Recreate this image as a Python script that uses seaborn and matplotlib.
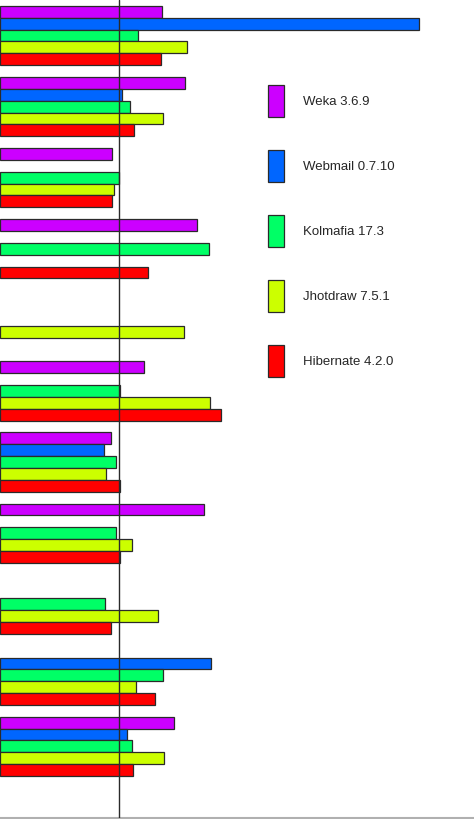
import numpy as np
import pandas as pd
import matplotlib
matplotlib.use("Agg")
import matplotlib.pyplot as plt
import seaborn as sns

# ---------------------------------------------------------------
# datos (NaN = barra ausente)
# ---------------------------------------------------------------
groups = ["G1", "G2", "G3", "G4", "G5", "G6", "G7", "G8", "G9", "G10", "G11"]
systems = ["Weka 3.6.9", "Webmail 0.7.10", "Kolmafia 17.3", "Jhotdraw 7.5.1", "Hibernate 4.2.0"]
colors = ["#cc00ff", "#0066ff", "#00ff66", "#ccff00", "#ff0000"]

weka = [1.367, 1.564, 0.944, 1.665, np.nan, 1.215, 0.933, 1.724, np.nan, np.nan, 1.465]
webmail = [3.54, 1.026, np.nan, np.nan, np.nan, np.nan, 0.879, np.nan, np.nan, 1.778, 1.074]
kolmafia = [1.164, 1.093, 1.0, 1.767, np.nan, 1.014, 0.975, 0.983, 0.882, 1.375, 1.11]
jhotdraw = [1.575, 1.375, 0.964, np.nan, 1.555, 1.775, 0.893, 1.113, 1.336, 1.144, 1.384]
hibernate = [1.355, 1.135, 0.947, 1.245, np.nan, 1.866, 1.014, 1.014, 0.933, 1.305, 1.122]

series = [weka, webmail, kolmafia, jhotdraw, hibernate]
df = pd.DataFrame(
    [(g, s, v) for s, vals in zip(systems, series) for g, v in zip(groups, vals)],
    columns=["group", "system", "ratio"],
)

# ---------------------------------------------------------------
# figura
# ---------------------------------------------------------------
sns.set_style("white")
plt.rcParams["font.family"] = ["Liberation Sans", "DejaVu Sans"]

fig = plt.figure(figsize=(4.74, 8.19), dpi=100)
ax = fig.add_axes([0, 1.5 / 819, 1, 817.5 / 819])

sns.barplot(
    data=df, y="group", x="ratio", hue="system",
    order=groups, hue_order=systems, palette=colors,
    orient="h", width=5 / 6, saturation=1,
    edgecolor="#2a2a2a", linewidth=0.9, errorbar=None, ax=ax,
)

ax.axvline(1.0, color="#2a2a2a", linewidth=1.0, zorder=5)

ax.set_xlim(0, 4)
ax.set_ylim(11.0, -0.5)
ax.set_xticks([1, 2, 3])
ax.set_xticklabels([])
ax.set_yticks([])
ax.set_xlabel("")
ax.set_ylabel("")
ax.tick_params(axis="x", length=2, color="#b0b0b0", direction="in")
for side in ["top", "right", "left"]:
    ax.spines[side].set_visible(False)
ax.spines["bottom"].set_color("#b0b0b0")
ax.spines["bottom"].set_linewidth(1.5)

ax.legend(
    loc="upper left", bbox_to_anchor=(268 / 474, 1 - 85 / 817.5),
    frameon=False, fontsize=9.5, borderpad=0, borderaxespad=0,
    handlelength=1.21, handleheight=3.355, handletextpad=1.44,
    labelspacing=2.5,
)

fig.savefig("out.png", dpi=100)
